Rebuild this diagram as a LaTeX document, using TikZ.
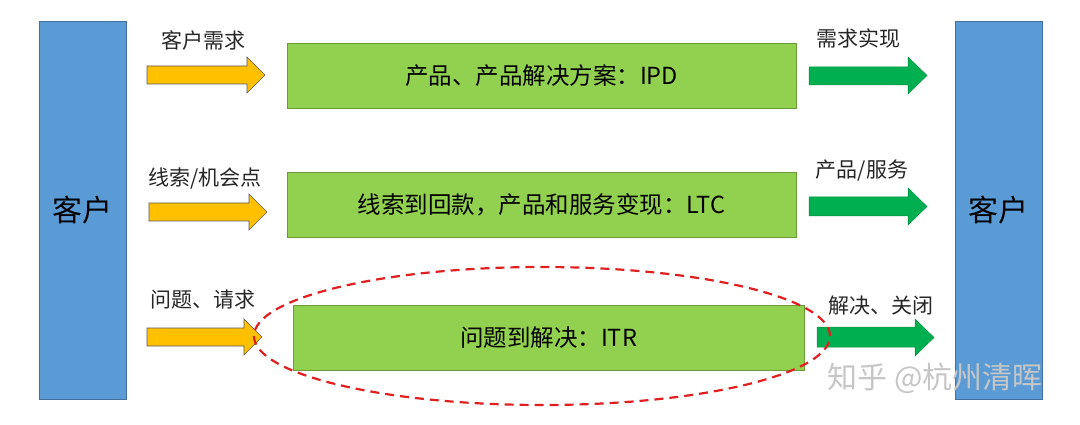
\documentclass[tikz,border=0pt]{standalone}
\usepackage{fontspec}
\setmainfont{Noto Sans CJK SC}
\usetikzlibrary{shapes.geometric}
\definecolor{custblue}{HTML}{5B9BD5}
\definecolor{custblueedge}{HTML}{41719C}
\definecolor{boxgreen}{HTML}{92D050}
\definecolor{boxgreenedge}{HTML}{6A9A3A}
\definecolor{inorange}{HTML}{FFC000}
\definecolor{outgreen}{HTML}{00B050}
\definecolor{ellred}{HTML}{E02020}
\tikzset{
  custbox/.style={draw=custblueedge, fill=custblue, line width=0.8pt, minimum width=87pt, minimum height=378pt, inner sep=0pt, font=\fontsize{30}{32}\selectfont},
  procbox/.style={draw=boxgreenedge, fill=boxgreen, line width=0.8pt, minimum width=509pt, minimum height=65pt, inner sep=0pt, font=\fontsize{23.5}{26}\selectfont},
  lbl/.style={inner sep=0pt, font=\fontsize{21}{24}\selectfont, text=black!85},
  inarrow/.style={draw=gray!70!black, fill=inorange, line width=0.7pt},
  outarrow/.style={draw=outgreen!80!black, fill=outgreen, line width=0.5pt},
}
\begin{document}
\begin{tikzpicture}[x=1pt,y=-1pt]
\useasboundingbox (0,0) rectangle (1080,425);
% customer boxes
\node[custbox] (custL) at (82.5,210) {客户};
\node[custbox] (custR) at (998.5,210) {客户};
% process boxes
\node[procbox] (ipd) at (541.5,75.5) {产品、产品解决方案：IPD};
\node[procbox] (ltc) at (541.5,205) {线索到回款，产品和服务变现：LTC};
\node[procbox, minimum width=511pt] (itr) at (548.5,337.5) {问题到解决：ITR};
% labels
\node[lbl] (l1) at (203,40) {客户需求};
\node[lbl] (l2) at (205,179) {线索/机会点};
\node[lbl] (l3) at (203,300) {问题、请求};
\node[lbl] (r1) at (858,38) {需求实现};
\node[lbl] (r2) at (862,171) {产品/服务};
\node[lbl] (r3) at (881,306) {解决、关闭};
% input arrows
\draw[inarrow] (147,66) -- (247,66) -- (247,57) -- (265,75) -- (247,93) -- (247,84) -- (147,84) -- cycle;
\draw[inarrow] (149,203) -- (249,203) -- (249,194) -- (267,212) -- (249,230) -- (249,221) -- (149,221) -- cycle;
\draw[inarrow] (147,328) -- (244,328) -- (244,319) -- (262,337) -- (244,355) -- (244,346) -- (147,346) -- cycle;
% output arrows
\draw[outarrow] (809,67) -- (908,67) -- (908,57) -- (927,75.5) -- (908,94) -- (908,85) -- (809,85) -- cycle;
\draw[outarrow] (809,197) -- (908,197) -- (908,188) -- (927,206.5) -- (908,225) -- (908,216) -- (809,216) -- cycle;
\draw[outarrow] (817,327) -- (915,327) -- (915,319) -- (934,337.5) -- (915,356) -- (915,347) -- (817,347) -- cycle;
% highlight ellipse
\node[draw=ellred, ellipse, dashed, dash pattern=on 9pt off 6pt, line width=2.2pt, minimum width=576pt, minimum height=138pt, inner sep=0pt] (hl) at (542,336) {};
% watermark
\node[inner sep=0pt, font=\fontsize{30}{32}\selectfont, text=gray!45] (wm) at (935,378) {知乎 @杭州清晖};
\end{tikzpicture}
\end{document}
